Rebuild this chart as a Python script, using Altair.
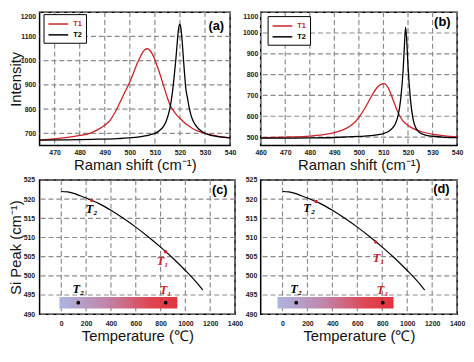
import altair as alt
import pandas as pd

RED = "#cc2229"
series_names = ["T1", "T2"]
panel_tags = ["(a)", "(b)", "(c)", "(d)"]
curve_labels = ["T\u2082", "T\u2081"]

# ---------- (a) Raman spectra ----------
a_t1_x = [464, 470, 475, 480, 484, 487, 490, 492, 494, 495.5, 497, 498.5, 500, 501.5, 503, 504, 505, 506, 507, 508,
          509, 510, 511, 512, 513, 514, 515, 516, 517, 518, 519, 520, 521.5, 523, 525, 527, 530, 533, 536, 540]
a_t1_y = [672, 677, 683, 691, 700, 714, 733, 752, 785, 815, 848, 880, 912, 950, 990, 1012, 1032, 1045, 1049, 1043,
          1027, 1005, 975, 945, 912, 878, 846, 818, 800, 784, 772, 762, 747, 734, 720, 710, 700, 692, 686, 681]
a_t2_x = [464, 475, 485, 495, 502, 506, 508, 510, 512, 513.5, 514.5, 515.5, 516.3, 517, 517.7, 518.4, 519, 519.5,
          519.9, 520.3, 520.8, 521.3, 521.8, 522.3, 523, 523.8, 524.8, 526, 527.5, 530, 533, 536, 540]
a_t2_y = [672, 673, 675, 678, 683, 689, 694, 700, 713, 730, 750, 782, 820, 870, 935, 1010, 1085, 1135,
          1151, 1138, 1090, 1020, 950, 888, 845, 800, 762, 737, 718, 700, 690, 685, 681]

# ---------- (b) Raman spectra ----------
b_t1_x = [460, 470, 480, 485, 490, 493, 496, 498, 500, 502, 504, 506, 508, 509.5, 510.2, 511, 512, 513, 514, 515,
          516, 517, 518, 520, 522, 525, 530, 535, 540]
b_t1_y = [497, 500, 505, 511, 521, 532, 550, 568, 595, 630, 672, 714, 745, 756, 757, 752, 735, 708, 676, 645,
          617, 594, 577, 556, 542, 528, 514, 506, 501]
b_t2_x = [460, 480, 490, 500, 505, 508, 510, 512, 514, 515, 516, 517, 518, 518.5, 519, 519.5, 520, 521, 522, 523,
          524, 526, 528, 530, 535, 540]
b_t2_y = [495, 496, 498, 503, 507, 512, 517, 527, 548, 568, 605, 680, 820, 930, 1028, 960, 840, 680, 590, 548,
          530, 514, 507, 504, 499, 497]

# ---------- (c), (d) Si peak vs temperature ----------
temp_T = [0, 50, 100, 150, 200, 250, 300, 400, 500, 600, 700, 800, 900, 1000, 1100, 1140]
temp_si = [522.0, 521.9, 521.5, 520.9, 520.3, 519.6, 518.9, 517.1, 515.0, 512.7, 510.2, 507.5, 504.6, 501.4, 497.9, 496.3]

c_mark_T = [245, 840]      # T2, T1
c_mark_si = [519.7, 506.3]
d_mark_T = [270, 748]
d_mark_si = [519.4, 508.8]

c_bar_T = [-15, 935]
d_bar_T = [-40, 890]
bar_si = [491.5, 494.5]
c_star_T = [137, 841]      # T2, T1
d_star_T = [110, 804]

# ticks / domains
a_xticks = [470, 480, 490, 500, 510, 520, 530, 540]
a_yticks = [700, 800, 900, 1000, 1100, 1200]
b_xticks = [460, 470, 480, 490, 500, 510, 520, 530, 540]
b_yticks = [500, 600, 700, 800, 900, 1000, 1100]
cd_xticks = [0, 200, 400, 600, 800, 1000, 1200, 1400]
cd_yticks = [490, 495, 500, 505, 510, 515, 520, 525]

LABEL_FONT = "Liberation Sans"
SERIF = "Liberation Serif"
GRID_STYLE = dict(color="#8c8c8c", strokeWidth=1.2, strokeDash=[5, 3], opacity=1)


def make_xy(xs, ys, xaxis_kw, yaxis_kw):
    def X(f, ax=False):
        if ax:
            return alt.X(f, scale=xs, axis=alt.Axis(**xaxis_kw))
        return alt.X(f, scale=xs, axis=None)

    def Y(f, ax=False):
        if ax:
            return alt.Y(f, scale=ys, axis=alt.Axis(**yaxis_kw))
        return alt.Y(f, scale=ys, axis=None)
    return X, Y


def grid_layers(X, Y, xticks, yticks):
    vx = alt.Chart(pd.DataFrame({"g": xticks})).mark_rule(**GRID_STYLE).encode(x=X("g:Q"))
    hy = alt.Chart(pd.DataFrame({"g": yticks})).mark_rule(**GRID_STYLE).encode(y=Y("g:Q"))
    return [vx, hy]


def spec_df(x1, y1, x2, y2):
    return pd.concat([
        pd.DataFrame({"x": x1, "y": y1, "s": series_names[0]}),
        pd.DataFrame({"x": x2, "y": y2, "s": series_names[1]}),
    ], ignore_index=True)


def spectrum_panel(df, xdom, xticks, ydom, yticks, w, h, tag, tagpos, ytitle, ylabpad, legpos):
    xs = alt.Scale(domain=xdom, nice=False, zero=False)
    ys = alt.Scale(domain=ydom, nice=False, zero=False)
    yaxis_kw = dict(values=yticks, labelPadding=ylabpad, labelFlush=True, labelOverlap=False, format="d",
                    grid=False)
    if ytitle:
        yaxis_kw.update(title=ytitle, titlePadding=0, minExtent=16, maxExtent=16)
    else:
        yaxis_kw.update(title=None)
    xaxis_kw = dict(values=xticks, title="Raman shift (cm\u207b\u00b9)", labelPadding=3.5, titlePadding=2,
                    labelFlush=False, labelOverlap=False, format="d", grid=False)
    X, Y = make_xy(xs, ys, xaxis_kw, yaxis_kw)
    lines = alt.Chart(df).mark_line(strokeWidth=1.3, interpolate="monotone", clip=True).encode(
        x=X("x:Q", True), y=Y("y:Q", True),
        color=alt.Color("s:N", scale=alt.Scale(domain=series_names, range=[RED, "#000000"]),
                        legend=alt.Legend(orient="none", legendX=legpos[0], legendY=legpos[1], title=None,
                                          symbolType="M-1,0H3", symbolSize=100, symbolStrokeWidth=1.5,
                                          labelFontSize=7.5, labelFont=LABEL_FONT, labelFontWeight="bold",
                                          labelOffset=14, rowPadding=1, padding=4,
                                          strokeColor="#000000", fillColor="#ffffff",
                                          labelColor=alt.ExprRef(expr="datum.label == 'T1' ? '%s' : '#000000'" % RED))),
    )
    tag_ch = alt.Chart(pd.DataFrame({"t": [tag]})).mark_text(
        font=LABEL_FONT, fontSize=13, fontWeight="bold", color="#000", align="center", baseline="middle"
    ).encode(text="t:N", x=alt.value(tagpos[0]), y=alt.value(tagpos[1]))
    return alt.layer(*grid_layers(X, Y, xticks, yticks), lines, tag_ch).resolve_axis(
        x="independent", y="independent").properties(width=w, height=h)


def temp_panel(w, h, mark_T, mark_si, bar_T, star_T, tag, tagpos, ytitle, offs):
    xs = alt.Scale(domain=[-175, 1400], nice=False, zero=False)
    ys = alt.Scale(domain=[490, 525], nice=False, zero=False)
    yaxis_kw = dict(values=cd_yticks, labelPadding=5 if ytitle else 4, labelOverlap=False, format="d", grid=False)
    if ytitle:
        yaxis_kw.update(title=ytitle, titlePadding=0, minExtent=16, maxExtent=16)
    else:
        yaxis_kw.update(title=None)
    xaxis_kw = dict(values=cd_xticks, title="Temperature (\u2103)", labelPadding=5, titlePadding=3,
                    labelFlush=False, labelOverlap=False, format="d", grid=False)
    X, Y = make_xy(xs, ys, xaxis_kw, yaxis_kw)

    curve_df = pd.DataFrame({"T": temp_T, "si": temp_si})
    curve = alt.Chart(curve_df).mark_line(color="#000", strokeWidth=1.2, interpolate="monotone").encode(
        x=X("T:Q", True), y=Y("si:Q", True))

    bar_df = pd.DataFrame({"t0": [bar_T[0]], "t1": [bar_T[1]], "s0": [bar_si[0]], "s1": [bar_si[1]]})
    grad = alt.Gradient(gradient="linear", x1=0, x2=1, y1=0, y2=0, stops=[
        alt.GradientStop(color="#a9b2e0", offset=0),
        alt.GradientStop(color="#bd7fa6", offset=0.4),
        alt.GradientStop(color="#de3a46", offset=0.78),
        alt.GradientStop(color="#e02833", offset=1)])
    bar = alt.Chart(bar_df).mark_rect(color=grad, opacity=0.95).encode(
        x=X("t0:Q"), x2="t1:Q", y=Y("s0:Q"), y2="s1:Q")

    star_df = pd.DataFrame({"T": star_T, "si": [sum(bar_si) / 2] * 2, "lab": curve_labels,
                            "c": ["#000000", RED]})
    stars = alt.Chart(star_df).mark_point(filled=True, color="#000", size=14, opacity=1).encode(
        x=X("T:Q"), y=Y("si:Q"))

    mk_df = pd.DataFrame({"T": mark_T, "si": mark_si, "lab": curve_labels, "c": ["#000000", RED]})
    marks = alt.Chart(mk_df).mark_point(filled=True, color=RED, size=12, opacity=1).encode(
        x=X("T:Q"), y=Y("si:Q"))

    texts = []
    for i, (dx, dy) in enumerate(offs[:2]):
        texts.append(alt.Chart(mk_df.iloc[[i]]).mark_text(
            font=SERIF, fontSize=12.5, fontStyle="italic", fontWeight="bold", dx=dx, dy=dy,
            align="center", baseline="middle").encode(
            x=X("T:Q"), y=Y("si:Q"), text="lab:N", color=alt.Color("c:N", scale=None)))
    for i, (dx, dy) in enumerate(offs[2:]):
        texts.append(alt.Chart(star_df.iloc[[i]]).mark_text(
            font=SERIF, fontSize=12.5, fontStyle="italic", fontWeight="bold", dx=dx, dy=dy,
            align="center", baseline="middle").encode(
            x=X("T:Q"), y=Y("si:Q"), text="lab:N", color=alt.Color("c:N", scale=None)))

    tag_ch = alt.Chart(pd.DataFrame({"t": [tag]})).mark_text(
        font=LABEL_FONT, fontSize=13, fontWeight="bold", color="#000", align="center", baseline="middle"
    ).encode(text="t:N", x=alt.value(tagpos[0]), y=alt.value(tagpos[1]))
    return alt.layer(*grid_layers(X, Y, cd_xticks, cd_yticks), curve, bar, stars, marks, *texts,
                     tag_ch).resolve_axis(x="independent", y="independent").properties(width=w, height=h)


pa = spectrum_panel(spec_df(a_t1_x, a_t1_y, a_t2_x, a_t2_y), [464, 540], a_xticks, [650, 1200], a_yticks,
                    193, 135, panel_tags[0], (179, 14.5), "Intensity", 4, (4, 2))
pb = spectrum_panel(spec_df(b_t1_x, b_t1_y, b_t2_x, b_t2_y), [460, 540], b_xticks, [460, 1100], b_yticks,
                    199, 135, panel_tags[1], (184, 10), None, 3, (7, 4))
pc = temp_panel(198, 136, c_mark_T, c_mark_si, c_bar_T, c_star_T, panel_tags[2], (182.5, 10),
                "Si Peak (cm\u207b\u00b9)", [(0, 9), (-3, 9), (0, -14), (0, -13)])
pd_ = temp_panel(199, 136, d_mark_T, d_mark_si, d_bar_T, d_star_T, panel_tags[3], (183, 9),
                 None, [(-7, 7), (3, 16), (0, -14), (0, -13)])

chart = alt.concat(pa, pb, pc, pd_, columns=2, bounds="flush",
                   spacing={"row": 35, "column": 26}).resolve_scale(
    color="independent", x="independent", y="independent"
).resolve_legend(color="independent").properties(
    padding=0, background="#ffffff"
).configure_view(
    stroke="#000000", strokeWidth=1.5
).configure_axis(
    domain=False, ticks=False,
    labelFont=LABEL_FONT, labelFontSize=7, labelFontWeight="bold", labelColor="#222222",
    titleFont=LABEL_FONT, titleFontSize=15, titleFontWeight="normal", titleColor="#111111",
)

chart.save("out.html", embed_options={"renderer": "svg", "actions": False})
